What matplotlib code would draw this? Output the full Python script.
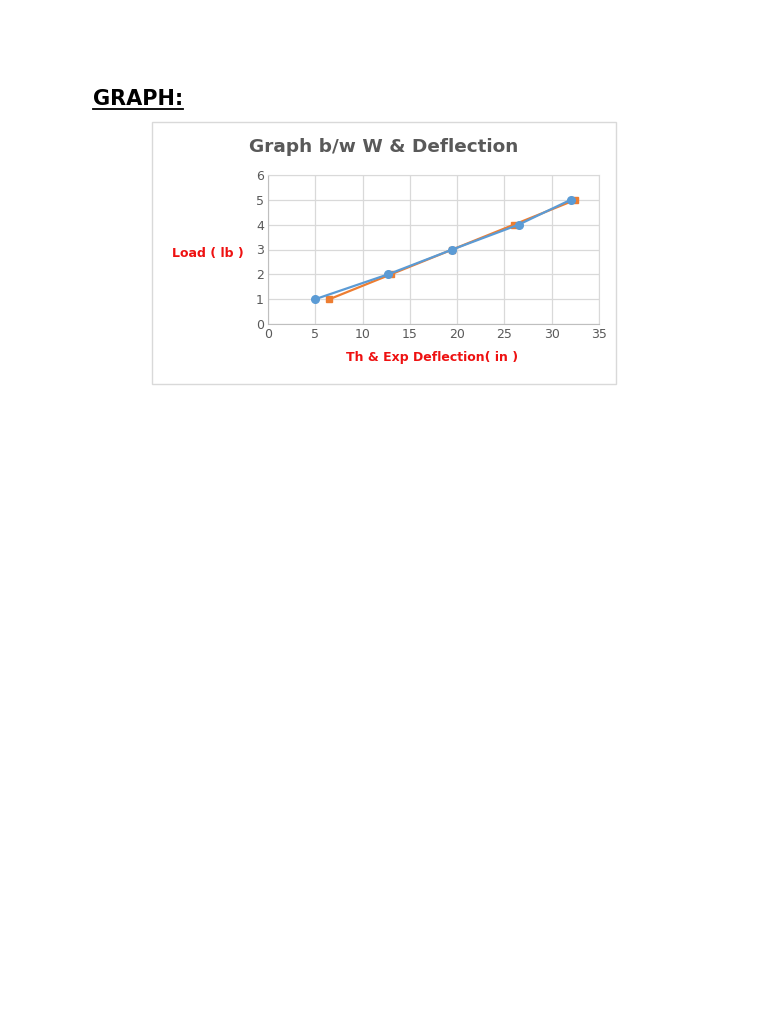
import matplotlib
matplotlib.use("Agg")
import matplotlib.pyplot as plt
from matplotlib.patches import Rectangle
from matplotlib.lines import Line2D

# Data
load = [1, 2, 3, 4, 5]
th_deflection = [6.5, 13.0, 19.5, 26.0, 32.5]
exp_deflection = [5.0, 12.7, 19.5, 26.5, 32.0]
x_ticks = [0, 5, 10, 15, 20, 25, 30, 35]
y_ticks = [0, 1, 2, 3, 4, 5, 6]

W, H = 768, 1024
fig = plt.figure(figsize=(W / 100, H / 100), dpi=100)

# Chart frame
fig.patches.append(Rectangle((152 / W, 1 - 384 / H), (616 - 152) / W, (384 - 122) / H,
                             transform=fig.transFigure, fill=False,
                             edgecolor="#d9d9d9", linewidth=1.0))

# Heading
fig.text(93 / W, 1 - 99 / H, "GRAPH:", fontsize=15, fontweight="bold",
         color="black", ha="left", va="center")
fig.lines.append(Line2D([93 / W, 183 / W], [1 - 109 / H, 1 - 109 / H],
                        transform=fig.transFigure, color="black", linewidth=1.3))

ax = fig.add_axes([268 / W, 1 - 324 / H, (599 - 268) / W, (324 - 175) / H])
ax.plot(th_deflection, load, color="#ED7D31", marker="s", markersize=5, linewidth=1.6, zorder=3)
ax.plot(exp_deflection, load, color="#5B9BD5", marker="o", markersize=5.5, linewidth=1.6, zorder=4)

ax.set_xlim(0, 35)
ax.set_ylim(0, 6)
ax.set_xticks(x_ticks)
ax.set_yticks(y_ticks)
ax.grid(True, color="#d9d9d9", linewidth=0.9)
ax.set_axisbelow(True)
for s in ax.spines.values():
    s.set_color("#d9d9d9")
ax.spines["bottom"].set_color("#bfbfbf")
ax.spines["left"].set_color("#bfbfbf")
ax.tick_params(length=0, labelsize=9, colors="#595959", pad=3)

fig.text(384 / W, 1 - 147 / H, "Graph b/w W & Deflection", fontsize=13.3, fontweight="bold",
         color="#595959", ha="center", va="center")
fig.text(208 / W, 1 - 254 / H, "Load ( lb )", fontsize=9, fontweight="bold",
         color="#EE1111", ha="center", va="center")
fig.text(432 / W, 1 - 357 / H, "Th & Exp Deflection( in )", fontsize=9, fontweight="bold",
         color="#EE1111", ha="center", va="center")

fig.savefig("out.png", dpi=100)
